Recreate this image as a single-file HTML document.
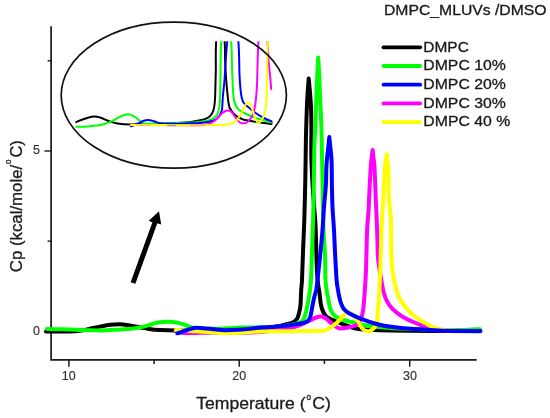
<!DOCTYPE html>
<html><head><meta charset="utf-8"><title>DSC thermogram</title>
<style>html,body{margin:0;padding:0;background:#fff;width:550px;height:418px;overflow:hidden}svg{display:block}</style>
</head><body>
<svg width="550" height="418" viewBox="0 0 550 418">
<defs><clipPath id="ic"><rect x="75.4" y="41.2" width="197.1" height="90"/></clipPath></defs>
<rect width="550" height="418" fill="#fff"/>
<g stroke="#1a1a1a" stroke-width="1.7" fill="none">
<path d="M51.1,26.2 V359.8 H476.7"/>
<path d="M44.4,331.3 H51.2" stroke-width="1.4"/>
<path d="M44.4,151.0 H51.2" stroke-width="1.4"/>
<path d="M47.6,241.1 H51.2" stroke-width="1.4"/>
<path d="M47.6,60.8 H51.2" stroke-width="1.4"/>
<path d="M68.9,359.5 V366.7" stroke-width="1.5"/>
<path d="M239.2,359.5 V366.7" stroke-width="1.5"/>
<path d="M409.7,359.5 V366.7" stroke-width="1.5"/>
<path d="M154.1,359.5 V363.9" stroke-width="1.5"/>
<path d="M324.4,359.5 V363.9" stroke-width="1.5"/>
</g>
<path d="M46.00,331.50 C48.33,331.52 55.17,331.63 60.00,331.60 C64.83,331.57 70.83,331.57 75.00,331.30 C79.17,331.03 82.17,330.50 85.00,330.00 C87.83,329.50 89.50,328.87 92.00,328.30 C94.50,327.73 97.00,327.18 100.00,326.60 C103.00,326.02 106.73,325.20 110.00,324.80 C113.27,324.40 116.27,324.08 119.60,324.20 C122.93,324.32 126.90,325.03 130.00,325.50 C133.10,325.97 135.03,326.43 138.20,327.00 C141.37,327.57 145.37,328.40 149.00,328.90 C152.63,329.40 155.50,329.73 160.00,330.00 C164.50,330.27 166.00,330.42 176.00,330.50 C186.00,330.58 207.67,330.67 220.00,330.50 C232.33,330.33 243.00,329.83 250.00,329.50 C257.00,329.17 258.33,328.87 262.00,328.50 C265.67,328.13 269.00,327.72 272.00,327.30 C275.00,326.88 277.83,326.45 280.00,326.00 C282.17,325.55 282.80,325.20 285.00,324.60 C287.20,324.00 291.17,323.42 293.20,322.40 C295.23,321.38 296.18,320.23 297.20,318.50 C298.22,316.77 298.75,314.25 299.30,312.00 C299.85,309.75 300.18,308.67 300.50,305.00 C300.82,301.33 300.95,294.17 301.20,290.00 C301.45,285.83 301.70,286.33 302.00,280.00 C302.30,273.67 302.62,262.00 303.00,252.00 C303.38,242.00 303.92,232.00 304.30,220.00 C304.68,208.00 305.03,193.33 305.30,180.00 C305.57,166.67 305.68,150.83 305.90,140.00 C306.12,129.17 306.37,122.00 306.60,115.00 C306.83,108.00 306.95,104.07 307.30,98.00 C307.65,91.93 308.47,81.83 308.70,78.60 L308.70,78.60 C308.95,81.33 309.80,89.77 310.20,95.00 C310.60,100.23 310.90,104.17 311.10,110.00 C311.30,115.83 311.37,122.50 311.40,130.00 C311.43,137.50 311.15,146.67 311.30,155.00 C311.45,163.33 311.85,171.67 312.30,180.00 C312.75,188.33 313.47,197.50 314.00,205.00 C314.53,212.50 315.12,217.50 315.50,225.00 C315.88,232.50 316.05,242.17 316.30,250.00 C316.55,257.83 316.68,266.17 317.00,272.00 C317.32,277.83 317.78,281.50 318.20,285.00 C318.62,288.50 319.03,289.67 319.50,293.00 C319.97,296.33 320.33,301.75 321.00,305.00 C321.67,308.25 322.50,310.50 323.50,312.50 C324.50,314.50 325.08,315.58 327.00,317.00 C328.92,318.42 332.00,319.67 335.00,321.00 C338.00,322.33 341.57,323.75 345.00,325.00 C348.43,326.25 351.43,327.70 355.60,328.50 C359.77,329.30 364.27,329.45 370.00,329.80 C375.73,330.15 380.00,330.40 390.00,330.60 C400.00,330.80 415.00,330.90 430.00,331.00 C445.00,331.10 471.67,331.17 480.00,331.20" fill="none" stroke="#000000" stroke-width="4.0" stroke-linejoin="round" stroke-linecap="round"/>
<path d="M47.00,329.00 C49.17,329.05 55.33,329.18 60.00,329.30 C64.67,329.42 70.00,329.53 75.00,329.70 C80.00,329.87 85.83,330.17 90.00,330.30 C94.17,330.43 96.67,330.55 100.00,330.50 C103.33,330.45 106.37,330.18 110.00,330.00 C113.63,329.82 118.47,329.60 121.80,329.40 C125.13,329.20 127.27,329.07 130.00,328.80 C132.73,328.53 135.03,328.42 138.20,327.80 C141.37,327.18 146.20,325.88 149.00,325.10 C151.80,324.32 152.83,323.60 155.00,323.10 C157.17,322.60 159.57,322.32 162.00,322.10 C164.43,321.88 167.27,321.75 169.60,321.80 C171.93,321.85 173.82,322.00 176.00,322.40 C178.18,322.80 180.13,323.38 182.70,324.20 C185.27,325.02 189.02,326.62 191.40,327.30 C193.78,327.98 194.73,328.05 197.00,328.30 C199.27,328.55 200.50,328.75 205.00,328.80 C209.50,328.85 218.17,328.80 224.00,328.60 C229.83,328.40 235.67,327.77 240.00,327.60 C244.33,327.43 245.00,327.67 250.00,327.60 C255.00,327.53 264.50,327.47 270.00,327.20 C275.50,326.93 278.83,326.53 283.00,326.00 C287.17,325.47 292.00,324.67 295.00,324.00 C298.00,323.33 299.55,322.83 301.00,322.00 C302.45,321.17 302.95,320.33 303.70,319.00 C304.45,317.67 304.87,316.33 305.50,314.00 C306.13,311.67 306.87,308.17 307.50,305.00 C308.13,301.83 308.88,297.50 309.30,295.00 C309.72,292.50 309.72,292.50 310.00,290.00 C310.28,287.50 310.67,286.33 311.00,280.00 C311.33,273.67 311.70,260.33 312.00,252.00 C312.30,243.67 312.53,238.67 312.80,230.00 C313.07,221.33 313.35,213.33 313.60,200.00 C313.85,186.67 314.00,162.50 314.30,150.00 C314.60,137.50 315.07,133.50 315.40,125.00 C315.73,116.50 315.98,107.33 316.30,99.00 C316.62,90.67 316.98,81.90 317.30,75.00 C317.62,68.10 318.05,60.50 318.20,57.60 L318.20,57.60 C318.37,60.50 318.87,68.10 319.20,75.00 C319.53,81.90 319.85,90.67 320.20,99.00 C320.55,107.33 321.02,116.50 321.30,125.00 C321.58,133.50 321.68,140.00 321.90,150.00 C322.12,160.00 322.33,171.67 322.60,185.00 C322.87,198.33 323.10,218.33 323.50,230.00 C323.90,241.67 324.67,246.67 325.00,255.00 C325.33,263.33 325.17,273.83 325.50,280.00 C325.83,286.17 326.42,288.17 327.00,292.00 C327.58,295.83 328.33,299.92 329.00,303.00 C329.67,306.08 330.07,308.40 331.00,310.50 C331.93,312.60 333.27,314.28 334.60,315.60 C335.93,316.92 337.40,317.62 339.00,318.40 C340.60,319.18 341.75,319.63 344.20,320.30 C346.65,320.97 350.20,321.58 353.70,322.40 C357.20,323.22 359.15,324.27 365.20,325.20 C371.25,326.13 379.20,327.28 390.00,328.00 C400.80,328.72 418.33,329.17 430.00,329.50 C441.67,329.83 453.00,330.00 460.00,330.00 C467.00,330.00 468.67,329.62 472.00,329.50 C475.33,329.38 478.67,329.33 480.00,329.30" fill="none" stroke="#00ff00" stroke-width="4.0" stroke-linejoin="round" stroke-linecap="round"/>
<path d="M175.60,331.00 C176.33,331.25 177.60,332.15 180.00,332.50 C182.40,332.85 186.67,333.05 190.00,333.10 C193.33,333.15 195.83,332.87 200.00,332.80 C204.17,332.73 210.00,332.70 215.00,332.70 C220.00,332.70 222.50,332.92 230.00,332.80 C237.50,332.68 252.50,332.47 260.00,332.00 C267.50,331.53 271.33,330.58 275.00,330.00 C278.67,329.42 279.50,328.87 282.00,328.50 C284.50,328.13 287.00,328.38 290.00,327.80 C293.00,327.22 296.67,326.22 300.00,325.00 C303.33,323.78 307.33,321.75 310.00,320.50 C312.67,319.25 314.08,318.17 316.00,317.50 C317.92,316.83 319.83,316.33 321.50,316.50 C323.17,316.67 324.42,317.42 326.00,318.50 C327.58,319.58 329.33,321.62 331.00,323.00 C332.67,324.38 334.43,325.88 336.00,326.80 C337.57,327.72 338.40,328.38 340.40,328.50 C342.40,328.62 345.47,328.00 348.00,327.50 C350.53,327.00 353.77,326.42 355.60,325.50 C357.43,324.58 358.00,323.42 359.00,322.00 C360.00,320.58 360.97,318.67 361.60,317.00 C362.23,315.33 362.45,314.00 362.80,312.00 C363.15,310.00 363.42,307.83 363.70,305.00 C363.98,302.17 364.12,300.83 364.50,295.00 C364.88,289.17 365.57,280.83 366.00,270.00 C366.43,259.17 366.67,240.00 367.10,230.00 C367.53,220.00 368.28,215.00 368.60,210.00 C368.92,205.00 368.65,207.17 369.00,200.00 C369.35,192.83 370.25,174.00 370.70,167.00 C371.15,160.00 371.38,160.85 371.70,158.00 C372.02,155.15 372.45,151.25 372.60,149.90 L372.60,149.90 C372.75,151.25 373.18,155.15 373.50,158.00 C373.82,160.85 374.12,160.00 374.50,167.00 C374.88,174.00 375.47,192.00 375.80,200.00 C376.13,208.00 376.25,209.17 376.50,215.00 C376.75,220.83 377.05,227.83 377.30,235.00 C377.55,242.17 377.55,251.83 378.00,258.00 C378.45,264.17 379.33,267.67 380.00,272.00 C380.67,276.33 381.38,280.58 382.00,284.00 C382.62,287.42 382.90,289.68 383.70,292.50 C384.50,295.32 385.38,298.22 386.80,300.90 C388.22,303.58 389.70,306.05 392.20,308.60 C394.70,311.15 398.28,313.97 401.80,316.20 C405.32,318.43 409.77,320.37 413.30,322.00 C416.83,323.63 419.88,324.78 423.00,326.00 C426.12,327.22 427.50,328.50 432.00,329.30 C436.50,330.10 442.00,330.52 450.00,330.80 C458.00,331.08 475.00,330.97 480.00,331.00" fill="none" stroke="#ff00ff" stroke-width="4.0" stroke-linejoin="round" stroke-linecap="round"/>
<path d="M176.00,330.00 C176.83,330.03 179.33,330.10 181.00,330.20 C182.67,330.30 184.00,330.42 186.00,330.60 C188.00,330.78 190.67,331.17 193.00,331.30 C195.33,331.43 196.83,331.20 200.00,331.40 C203.17,331.60 207.50,332.23 212.00,332.50 C216.50,332.77 221.50,333.00 227.00,333.00 C232.50,333.00 239.50,332.77 245.00,332.50 C250.50,332.23 252.50,331.62 260.00,331.40 C267.50,331.18 282.50,331.27 290.00,331.20 C297.50,331.13 299.83,331.03 305.00,331.00 C310.17,330.97 317.50,331.17 321.00,331.00 C324.50,330.83 324.33,330.62 326.00,330.00 C327.67,329.38 329.33,328.38 331.00,327.30 C332.67,326.22 334.50,324.80 336.00,323.50 C337.50,322.20 338.67,320.92 340.00,319.50 C341.33,318.08 342.75,316.12 344.00,315.00 C345.25,313.88 346.33,313.13 347.50,312.80 C348.67,312.47 349.92,312.47 351.00,313.00 C352.08,313.53 352.83,314.58 354.00,316.00 C355.17,317.42 356.83,319.75 358.00,321.50 C359.17,323.25 360.00,325.08 361.00,326.50 C362.00,327.92 363.00,329.23 364.00,330.00 C365.00,330.77 366.00,330.97 367.00,331.10 C368.00,331.23 368.92,331.23 370.00,330.80 C371.08,330.37 372.50,329.47 373.50,328.50 C374.50,327.53 375.38,326.33 376.00,325.00 C376.62,323.67 376.90,322.50 377.20,320.50 C377.50,318.50 377.57,316.08 377.80,313.00 C378.03,309.92 378.33,305.83 378.60,302.00 C378.87,298.17 379.15,294.50 379.40,290.00 C379.65,285.50 379.88,280.83 380.10,275.00 C380.32,269.17 380.47,262.50 380.70,255.00 C380.93,247.50 381.23,236.67 381.50,230.00 C381.77,223.33 382.00,220.00 382.30,215.00 C382.60,210.00 382.90,207.33 383.30,200.00 C383.70,192.67 384.32,177.33 384.70,171.00 C385.08,164.67 385.28,164.78 385.60,162.00 C385.92,159.22 386.43,155.58 386.60,154.30 L386.60,154.30 C386.77,155.58 387.28,159.22 387.60,162.00 C387.92,164.78 388.27,164.67 388.50,171.00 C388.73,177.33 388.63,192.67 389.00,200.00 C389.37,207.33 390.35,210.00 390.70,215.00 C391.05,220.00 390.95,222.50 391.10,230.00 C391.25,237.50 391.25,252.67 391.60,260.00 C391.95,267.33 392.62,269.73 393.20,274.00 C393.78,278.27 394.15,281.75 395.10,285.60 C396.05,289.45 397.47,293.90 398.90,297.10 C400.33,300.30 401.78,302.25 403.70,304.80 C405.62,307.35 408.17,310.17 410.40,312.40 C412.63,314.63 414.38,316.28 417.10,318.20 C419.82,320.12 423.83,322.32 426.70,323.90 C429.57,325.48 431.25,326.63 434.30,327.70 C437.35,328.77 440.72,329.75 445.00,330.30 C449.28,330.85 454.17,330.85 460.00,331.00 C465.83,331.15 476.67,331.17 480.00,331.20" fill="none" stroke="#ffff00" stroke-width="4.0" stroke-linejoin="round" stroke-linecap="round"/>
<path d="M177.30,333.30 C178.08,333.05 180.38,332.35 182.00,331.80 C183.62,331.25 185.33,330.55 187.00,330.00 C188.67,329.45 190.53,328.87 192.00,328.50 C193.47,328.13 194.47,327.88 195.80,327.80 C197.13,327.72 197.63,327.83 200.00,328.00 C202.37,328.17 206.37,328.45 210.00,328.80 C213.63,329.15 217.13,329.93 221.80,330.10 C226.47,330.27 233.30,330.03 238.00,329.80 C242.70,329.57 246.33,329.07 250.00,328.70 C253.67,328.33 256.67,327.87 260.00,327.60 C263.33,327.33 266.28,327.37 270.00,327.10 C273.72,326.83 278.97,326.32 282.30,326.00 C285.63,325.68 287.73,325.50 290.00,325.20 C292.27,324.90 293.90,324.53 295.90,324.20 C297.90,323.87 300.32,323.57 302.00,323.20 C303.68,322.83 304.92,322.48 306.00,322.00 C307.08,321.52 307.75,321.30 308.50,320.30 C309.25,319.30 309.82,318.55 310.50,316.00 C311.18,313.45 311.97,308.17 312.60,305.00 C313.23,301.83 313.70,299.50 314.30,297.00 C314.90,294.50 315.67,292.83 316.20,290.00 C316.73,287.17 316.78,286.33 317.50,280.00 C318.22,273.67 319.67,260.33 320.50,252.00 C321.33,243.67 321.92,237.50 322.50,230.00 C323.08,222.50 323.43,214.50 324.00,207.00 C324.57,199.50 325.52,191.17 325.90,185.00 C326.28,178.83 326.17,173.83 326.30,170.00 C326.43,166.17 326.52,164.50 326.70,162.00 C326.88,159.50 327.12,157.67 327.40,155.00 C327.68,152.33 328.08,149.02 328.40,146.00 C328.72,142.98 329.15,138.42 329.30,136.90 L329.30,136.90 C329.45,138.42 329.88,142.98 330.20,146.00 C330.52,149.02 330.97,152.33 331.20,155.00 C331.43,157.67 331.50,159.17 331.60,162.00 C331.70,164.83 331.75,168.17 331.80,172.00 C331.85,175.83 331.78,179.17 331.90,185.00 C332.02,190.83 332.15,199.50 332.50,207.00 C332.85,214.50 333.58,222.50 334.00,230.00 C334.42,237.50 334.57,243.67 335.00,252.00 C335.43,260.33 336.10,273.67 336.60,280.00 C337.10,286.33 337.55,287.17 338.00,290.00 C338.45,292.83 338.87,295.00 339.30,297.00 C339.73,299.00 340.12,300.50 340.60,302.00 C341.08,303.50 341.60,304.77 342.20,306.00 C342.80,307.23 343.23,308.30 344.20,309.40 C345.17,310.50 346.42,311.57 348.00,312.60 C349.58,313.63 351.15,314.43 353.70,315.60 C356.25,316.77 360.10,318.37 363.30,319.60 C366.50,320.83 369.45,321.97 372.90,323.00 C376.35,324.03 380.32,325.08 384.00,325.80 C387.68,326.52 390.67,326.80 395.00,327.30 C399.33,327.80 404.17,328.35 410.00,328.80 C415.83,329.25 423.33,329.65 430.00,330.00 C436.67,330.35 441.58,330.72 450.00,330.90 C458.42,331.08 475.42,331.07 480.50,331.10" fill="none" stroke="#0000ff" stroke-width="4.0" stroke-linejoin="round" stroke-linecap="round"/>
<g clip-path="url(#ic)">
<path d="M75.50,122.30 C76.92,121.75 80.98,119.95 84.00,119.00 C87.02,118.05 90.93,116.85 93.60,116.60 C96.27,116.35 97.60,116.80 100.00,117.50 C102.40,118.20 105.12,119.80 108.00,120.80 C110.88,121.80 113.33,122.90 117.30,123.50 C121.27,124.10 124.68,124.38 131.80,124.40 C138.92,124.42 151.13,123.92 160.00,123.60 C168.87,123.28 178.33,123.07 185.00,122.50 C191.67,121.93 196.67,120.78 200.00,120.20 C203.33,119.62 203.50,119.53 205.00,119.00 C206.50,118.47 207.83,117.92 209.00,117.00 C210.17,116.08 211.25,114.67 212.00,113.50 C212.75,112.33 213.07,111.58 213.50,110.00 C213.93,108.42 214.32,106.50 214.60,104.00 C214.88,101.50 215.00,100.67 215.20,95.00 C215.40,89.33 215.63,79.00 215.80,70.00 C215.97,61.00 215.43,51.83 216.20,41.00 C216.97,30.17 219.00,5.00 220.40,5.00 C221.80,5.00 223.82,31.83 224.60,41.00 C225.38,50.17 224.83,53.50 225.10,60.00 C225.37,66.50 225.60,72.67 226.20,80.00 C226.80,87.33 227.90,99.00 228.70,104.00 C229.50,109.00 229.95,108.17 231.00,110.00 C232.05,111.83 233.50,113.67 235.00,115.00 C236.50,116.33 238.33,117.17 240.00,118.00 C241.67,118.83 241.67,119.25 245.00,120.00 C248.33,120.75 255.50,121.83 260.00,122.50 C264.50,123.17 270.00,123.75 272.00,124.00" fill="none" stroke="#000000" stroke-width="2.0" stroke-linejoin="round" stroke-linecap="round"/>
<path d="M75.50,126.80 C77.92,126.70 85.47,126.58 90.00,126.20 C94.53,125.82 99.03,125.33 102.70,124.50 C106.37,123.67 109.12,122.48 112.00,121.20 C114.88,119.92 117.30,117.95 120.00,116.80 C122.70,115.65 125.70,114.27 128.20,114.30 C130.70,114.33 132.58,115.58 135.00,117.00 C137.42,118.42 140.20,121.67 142.70,122.80 C145.20,123.93 145.45,123.72 150.00,123.80 C154.55,123.88 163.33,123.50 170.00,123.30 C176.67,123.10 185.00,122.82 190.00,122.60 C195.00,122.38 197.00,122.35 200.00,122.00 C203.00,121.65 205.83,121.08 208.00,120.50 C210.17,119.92 211.58,119.33 213.00,118.50 C214.42,117.67 215.58,116.75 216.50,115.50 C217.42,114.25 217.98,112.92 218.50,111.00 C219.02,109.08 219.30,107.50 219.60,104.00 C219.90,100.50 220.02,100.50 220.30,90.00 C220.58,79.50 220.32,55.17 221.30,41.00 C222.28,26.83 224.57,5.00 226.20,5.00 C227.83,5.00 230.12,30.17 231.10,41.00 C232.08,51.83 231.77,61.50 232.10,70.00 C232.43,78.50 232.78,87.00 233.10,92.00 C233.42,97.00 233.60,97.83 234.00,100.00 C234.40,102.17 234.80,103.48 235.50,105.00 C236.20,106.52 237.12,107.97 238.20,109.10 C239.28,110.23 240.65,110.98 242.00,111.80 C243.35,112.62 244.50,113.17 246.30,114.00 C248.10,114.83 250.52,115.93 252.80,116.80 C255.08,117.67 256.80,118.25 260.00,119.20 C263.20,120.15 270.00,121.95 272.00,122.50" fill="none" stroke="#00ff00" stroke-width="2.0" stroke-linejoin="round" stroke-linecap="round"/>
<path d="M131.00,126.30 C132.17,125.83 136.00,124.38 138.00,123.50 C140.00,122.62 141.30,121.60 143.00,121.00 C144.70,120.40 146.37,119.87 148.20,119.90 C150.03,119.93 151.87,120.60 154.00,121.20 C156.13,121.80 158.33,123.07 161.00,123.50 C163.67,123.93 165.17,123.83 170.00,123.80 C174.83,123.77 185.00,123.43 190.00,123.30 C195.00,123.17 197.00,123.22 200.00,123.00 C203.00,122.78 205.50,122.50 208.00,122.00 C210.50,121.50 213.17,120.92 215.00,120.00 C216.83,119.08 217.97,117.83 219.00,116.50 C220.03,115.17 220.68,113.30 221.20,112.00 C221.72,110.70 221.80,111.53 222.10,108.70 C222.40,105.87 222.60,99.78 223.00,95.00 C223.40,90.22 223.78,89.00 224.50,80.00 C225.22,71.00 225.92,53.50 227.30,41.00 C228.68,28.50 230.97,5.00 232.80,5.00 C234.63,5.00 237.18,29.33 238.30,41.00 C239.42,52.67 239.12,66.83 239.50,75.00 C239.88,83.17 240.22,86.17 240.60,90.00 C240.98,93.83 241.32,95.92 241.80,98.00 C242.28,100.08 242.63,101.17 243.50,102.50 C244.37,103.83 245.92,105.00 247.00,106.00 C248.08,107.00 248.67,107.42 250.00,108.50 C251.33,109.58 253.33,111.28 255.00,112.50 C256.67,113.72 258.17,114.72 260.00,115.80 C261.83,116.88 263.92,118.03 266.00,119.00 C268.08,119.97 271.42,121.17 272.50,121.60" fill="none" stroke="#0000ff" stroke-width="2.0" stroke-linejoin="round" stroke-linecap="round"/>
<path d="M131.00,125.10 C135.83,125.10 150.17,125.08 160.00,125.10 C169.83,125.12 183.33,125.17 190.00,125.20 C196.67,125.23 197.00,125.45 200.00,125.30 C203.00,125.15 205.50,125.10 208.00,124.30 C210.50,123.50 213.00,122.05 215.00,120.50 C217.00,118.95 218.42,116.50 220.00,115.00 C221.58,113.50 223.13,112.23 224.50,111.50 C225.87,110.77 226.95,110.43 228.20,110.60 C229.45,110.77 230.62,111.10 232.00,112.50 C233.38,113.90 235.17,117.33 236.50,119.00 C237.83,120.67 238.92,121.80 240.00,122.50 C241.08,123.20 241.83,123.20 243.00,123.20 C244.17,123.20 245.67,123.37 247.00,122.50 C248.33,121.63 249.92,119.58 251.00,118.00 C252.08,116.42 252.83,115.00 253.50,113.00 C254.17,111.00 254.58,108.50 255.00,106.00 C255.42,103.50 255.67,101.50 256.00,98.00 C256.33,94.50 256.58,94.50 257.00,85.00 C257.42,75.50 257.50,54.33 258.50,41.00 C259.50,27.67 261.52,5.00 263.00,5.00 C264.48,5.00 266.48,31.83 267.40,41.00 C268.32,50.17 268.07,54.33 268.50,60.00 C268.93,65.67 269.55,70.17 270.00,75.00 C270.45,79.83 271.00,86.67 271.20,89.00" fill="none" stroke="#ff00ff" stroke-width="2.0" stroke-linejoin="round" stroke-linecap="round"/>
<path d="M131.00,125.00 C135.83,125.00 148.50,124.95 160.00,125.00 C171.50,125.05 190.83,125.30 200.00,125.30 C209.17,125.30 210.83,125.10 215.00,125.00 C219.17,124.90 222.33,124.90 225.00,124.70 C227.67,124.50 229.17,124.42 231.00,123.80 C232.83,123.18 234.50,122.33 236.00,121.00 C237.50,119.67 238.83,117.67 240.00,115.80 C241.17,113.93 242.00,111.77 243.00,109.80 C244.00,107.83 245.17,105.27 246.00,104.00 C246.83,102.73 247.25,102.03 248.00,102.20 C248.75,102.37 249.75,103.70 250.50,105.00 C251.25,106.30 251.75,107.92 252.50,110.00 C253.25,112.08 254.25,115.53 255.00,117.50 C255.75,119.47 256.42,120.88 257.00,121.80 C257.58,122.72 257.92,123.05 258.50,123.00 C259.08,122.95 259.75,122.42 260.50,121.50 C261.25,120.58 262.25,119.08 263.00,117.50 C263.75,115.92 264.50,114.08 265.00,112.00 C265.50,109.92 265.70,108.67 266.00,105.00 C266.30,101.33 266.47,100.67 266.80,90.00 C267.13,79.33 266.97,55.17 268.00,41.00 C269.03,26.83 272.17,11.00 273.00,5.00" fill="none" stroke="#ffff00" stroke-width="2.0" stroke-linejoin="round" stroke-linecap="round"/>
<path d="M136,125.2 H151" stroke="#ff9090" stroke-width="1.3" opacity="0.6"/>
<path d="M167,125.4 H176" stroke="#7070e0" stroke-width="1.3" opacity="0.6"/>
<path d="M190,125.3 H205" stroke="#ff70d0" stroke-width="1.3" opacity="0.5"/>
</g>
<ellipse cx="173.8" cy="95.2" rx="112.6" ry="73.0" fill="none" stroke="#111" stroke-width="1.7"/>
<path d="M133,283 L156.6,218" stroke="#000" stroke-width="5" fill="none"/>
<path d="M159,211.3 L161.2,224.6 L155.5,222.8 L152,222.3 L148.8,220.8 Z" fill="#000"/>
<text stroke="#1a1a1a" x="384" y="14.7" font-size="14.2" font-family="Liberation Sans, Arial, sans-serif" stroke-width="0.3" fill="#1a1a1a" textLength="162.5" lengthAdjust="spacingAndGlyphs">DMPC_MLUVs /DMSO</text>
<path d="M383.5,47.3 H420.2" stroke="#000000" stroke-width="3.8" stroke-linecap="round"/>
<text stroke="#1a1a1a" x="423.3" y="51.7" font-size="14" font-family="Liberation Sans, Arial, sans-serif" stroke-width="0.3" fill="#1a1a1a" textLength="45.5" lengthAdjust="spacingAndGlyphs">DMPC</text>
<path d="M383.5,66.0 H420.2" stroke="#00ff00" stroke-width="3.8" stroke-linecap="round"/>
<text stroke="#1a1a1a" x="423.3" y="70.4" font-size="14" font-family="Liberation Sans, Arial, sans-serif" stroke-width="0.3" fill="#1a1a1a" textLength="82.5" lengthAdjust="spacingAndGlyphs">DMPC 10%</text>
<path d="M383.5,84.7 H420.2" stroke="#0000ff" stroke-width="3.8" stroke-linecap="round"/>
<text stroke="#1a1a1a" x="423.3" y="89.1" font-size="14" font-family="Liberation Sans, Arial, sans-serif" stroke-width="0.3" fill="#1a1a1a" textLength="82.5" lengthAdjust="spacingAndGlyphs">DMPC 20%</text>
<path d="M383.5,103.4 H420.2" stroke="#ff00ff" stroke-width="3.8" stroke-linecap="round"/>
<text stroke="#1a1a1a" x="423.3" y="107.7" font-size="14" font-family="Liberation Sans, Arial, sans-serif" stroke-width="0.3" fill="#1a1a1a" textLength="82.5" lengthAdjust="spacingAndGlyphs">DMPC 30%</text>
<path d="M383.5,122.1 H420.2" stroke="#ffff00" stroke-width="3.8" stroke-linecap="round"/>
<text stroke="#1a1a1a" x="423.3" y="126.4" font-size="14" font-family="Liberation Sans, Arial, sans-serif" stroke-width="0.3" fill="#1a1a1a" textLength="87.0" lengthAdjust="spacingAndGlyphs">DMPC 40 %</text>
<text x="36.6" y="335" font-size="12.5" font-family="Liberation Sans, Arial, sans-serif" fill="#333333" stroke="#333333" stroke-width="0.15" text-anchor="middle">0</text>
<text x="36.6" y="154.3" font-size="12.5" font-family="Liberation Sans, Arial, sans-serif" fill="#333333" stroke="#333333" stroke-width="0.15" text-anchor="middle">5</text>
<text x="68.7" y="380.4" font-size="12.5" font-family="Liberation Sans, Arial, sans-serif" fill="#333333" stroke="#333333" stroke-width="0.15" text-anchor="middle">10</text>
<text x="239.2" y="380.4" font-size="12.5" font-family="Liberation Sans, Arial, sans-serif" fill="#333333" stroke="#333333" stroke-width="0.15" text-anchor="middle">20</text>
<text x="409.9" y="380.4" font-size="12.5" font-family="Liberation Sans, Arial, sans-serif" fill="#333333" stroke="#333333" stroke-width="0.15" text-anchor="middle">30</text>
<text stroke="#1a1a1a" x="196.3" y="408.7" font-size="16.4" font-family="Liberation Sans, Arial, sans-serif" stroke-width="0.3" fill="#1a1a1a" textLength="109.3" lengthAdjust="spacingAndGlyphs">Temperature (</text>
<text stroke="#1a1a1a" x="306.6" y="399.6" font-size="8.2" font-family="Liberation Sans, Arial, sans-serif" stroke-width="0.3" fill="#1a1a1a">o</text>
<text stroke="#1a1a1a" x="312.2" y="408.7" font-size="16.4" font-family="Liberation Sans, Arial, sans-serif" stroke-width="0.3" fill="#1a1a1a" textLength="18.6" lengthAdjust="spacingAndGlyphs">C)</text>
<g transform="translate(21.6,272.2) rotate(-90)">
<text stroke="#1a1a1a" x="0" y="0" font-size="16.8" font-family="Liberation Sans, Arial, sans-serif" stroke-width="0.3" fill="#1a1a1a" textLength="107.4" lengthAdjust="spacingAndGlyphs">Cp (kcal/mole/</text>
<text stroke="#1a1a1a" x="108.2" y="-10.2" font-size="8.2" font-family="Liberation Sans, Arial, sans-serif" stroke-width="0.3" fill="#1a1a1a">o</text>
<text stroke="#1a1a1a" x="114.8" y="0" font-size="16.8" font-family="Liberation Sans, Arial, sans-serif" stroke-width="0.3" fill="#1a1a1a" textLength="17.2" lengthAdjust="spacingAndGlyphs">C)</text>
</g>
</svg>
</body></html>
